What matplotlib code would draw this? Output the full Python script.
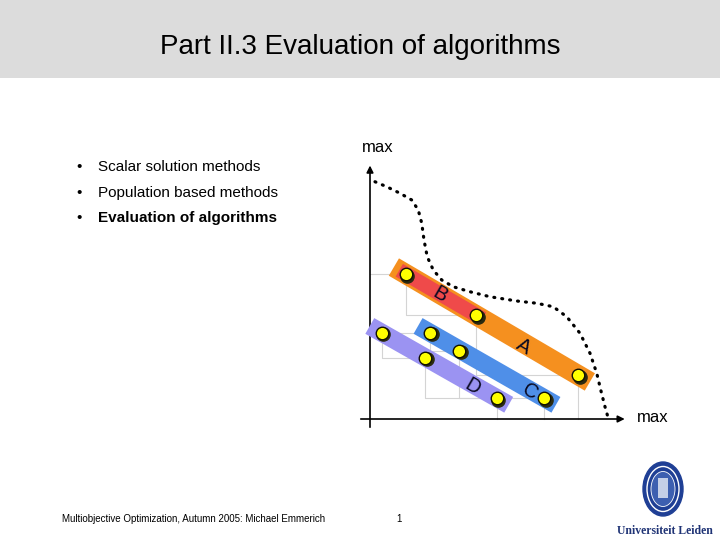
import numpy as np
import matplotlib.pyplot as plt
import matplotlib.transforms as mtransforms
from matplotlib.patches import Rectangle, Ellipse

plt.rcParams['font.family'] = ['Liberation Sans', 'DejaVu Sans']

# slide text
title = 'Part II.3 Evaluation of algorithms'
bullets = ['Scalar solution methods', 'Population based methods', 'Evaluation of algorithms']
footer = 'Multiobjective Optimization, Autumn 2005: Michael Emmerich'
page_no = '1'

# objective values of the three approximation sets (f1, f2)
a_x = [1.43, 4.24, 8.32]
a_y = [5.80, 4.16, 1.76]
c_x = [2.40, 3.56, 6.96]
c_y = [3.45, 2.73, 0.84]
d_x = [0.47, 2.20, 5.07]
d_y = [3.45, 2.45, 0.84]

# true pareto front (dotted)
front_x = [0.2, 0.67, 1.2, 1.67, 1.93, 2.07, 2.16, 2.29, 2.53, 2.87, 3.33, 4.0,
           4.8, 5.87, 6.67, 7.33, 7.87, 8.4, 8.8, 9.07, 9.23, 9.4, 9.53]
front_y = [9.49, 9.29, 9.03, 8.76, 8.36, 7.83, 7.16, 6.49, 5.96, 5.56, 5.29, 5.09,
           4.89, 4.72, 4.63, 4.49, 4.09, 3.43, 2.63, 1.83, 1.16, 0.49, 0.03]

fig = plt.figure(figsize=(7.2, 5.4), dpi=100)

# slide background in pixel coordinates
bg = fig.add_axes([0, 0, 1, 1])
bg.set_xlim(0, 720)
bg.set_ylim(540, 0)
bg.axis('off')
bg.add_patch(Rectangle((0, 0), 720, 78, color='#dcdcdc', lw=0))
bg.text(360, 54, title, ha='center', va='baseline', fontsize=20)
for i, b in enumerate(bullets):
    y = 167 + i * 25.5
    bg.text(76, y, '\u2022', ha='left', va='center', fontsize=11)
    bg.text(98, y, b, ha='left', va='center', fontsize=11,
            fontweight='bold' if i == 2 else 'normal')
bg.text(62, 519, footer, ha='left', va='center', fontsize=7)
bg.text(399, 519, page_no, ha='center', va='center', fontsize=7)

# university seal (rough)
bg.add_patch(Ellipse((663, 489), 40, 54, color='#1f3f95'))
bg.add_patch(Ellipse((663, 489), 32, 45, fc='none', ec='white', lw=1))
bg.add_patch(Ellipse((663, 489), 24, 35, fc='#3d5fb0', ec='white', lw=0.6))
bg.add_patch(Rectangle((658, 478), 10, 20, fc='white', ec='none', alpha=0.7))
bg.text(665, 531, 'Universiteit Leiden', ha='center', va='center', fontsize=8.5,
        family=['Liberation Serif', 'DejaVu Serif'], fontweight='bold', color='#1f3375')

# chart axes: origin at pixel (370, 419), 25 px per unit
ax = fig.add_axes([345 / 720, (540 - 444) / 540, 337.5 / 720, 300 / 540])
ax.set_xlim(-1, 12.5)
ax.set_ylim(-1, 11)
ax.axis('off')

# dominated region outlines
def staircase(xs, ys):
    px = [0]
    py = [ys[0]]
    for i in range(len(xs)):
        px += [xs[i], xs[i]]
        py += [ys[i], ys[i + 1] if i + 1 < len(xs) else 0]
    return px, py

for xs, ys in [(d_x, d_y), (c_x, c_y), (a_x, a_y)]:
    sx, sy = staircase(xs, ys)
    ax.plot(sx, sy, color='#d4d4d4', lw=0.8, zorder=1)

# axes arrows
ax.annotate('', xy=(10.3, 0), xytext=(-0.48, 0),
            arrowprops=dict(arrowstyle='-|>', color='black', lw=1.2, mutation_scale=10))
ax.annotate('', xy=(0, 10.25), xytext=(0, -0.44),
            arrowprops=dict(arrowstyle='-|>', color='black', lw=1.2, mutation_scale=10))
ax.text(0.32, 10.84, 'max', ha='center', va='center', fontsize=12)
ax.text(11.32, 0.04, 'max', ha='center', va='center', fontsize=12)

# pareto front
ax.plot(front_x, front_y, color='black', lw=2.3, linestyle=(0, (0.3, 2.2)),
        dash_capstyle='round', zorder=2)

# bands behind each set
def band(xs, ys, color, lw, ext):
    x0, y0, x1, y1 = xs[0], ys[0], xs[-1], ys[-1]
    d = np.hypot(x1 - x0, y1 - y0)
    ux, uy = (x1 - x0) / d, (y1 - y0) / d
    ax.plot([x0 - ux * ext, x1 + ux * ext], [y0 - uy * ext, y1 + uy * ext],
            color=color, lw=lw, solid_capstyle='butt', zorder=3)

band(d_x, d_y, '#9b93f2', 13, 0.55)
band(c_x, c_y, '#4f8fe8', 13, 0.55)
band(a_x, a_y, '#f5901f', 14.5, 0.55)
band(a_x[:2], a_y[:2], '#ef4a4a', 10.5, 0.3)

# letters along bands
ang = -30
for lbl, lx, ly in [('B', 2.8, 4.96), ('A', 6.12, 2.88), ('C', 6.4, 1.08), ('D', 4.1, 1.3)]:
    ax.text(lx, ly, lbl, fontsize=14.5, rotation=ang, ha='center', va='center',
            color='#0a0a22', zorder=5)

# points with shadow
shadow = mtransforms.offset_copy(ax.transData, fig=fig, x=1.5, y=-1.5, units='dots')
all_x = a_x + c_x + d_x
all_y = a_y + c_y + d_y
ax.plot(all_x, all_y, 'o', ms=9.5, color='#2a2a10', transform=shadow, zorder=6)
ax.plot(all_x, all_y, 'o', ms=9, mfc='#ffff00', mec='#111100', mew=1, zorder=7)

fig.savefig('out.png', dpi=100)
